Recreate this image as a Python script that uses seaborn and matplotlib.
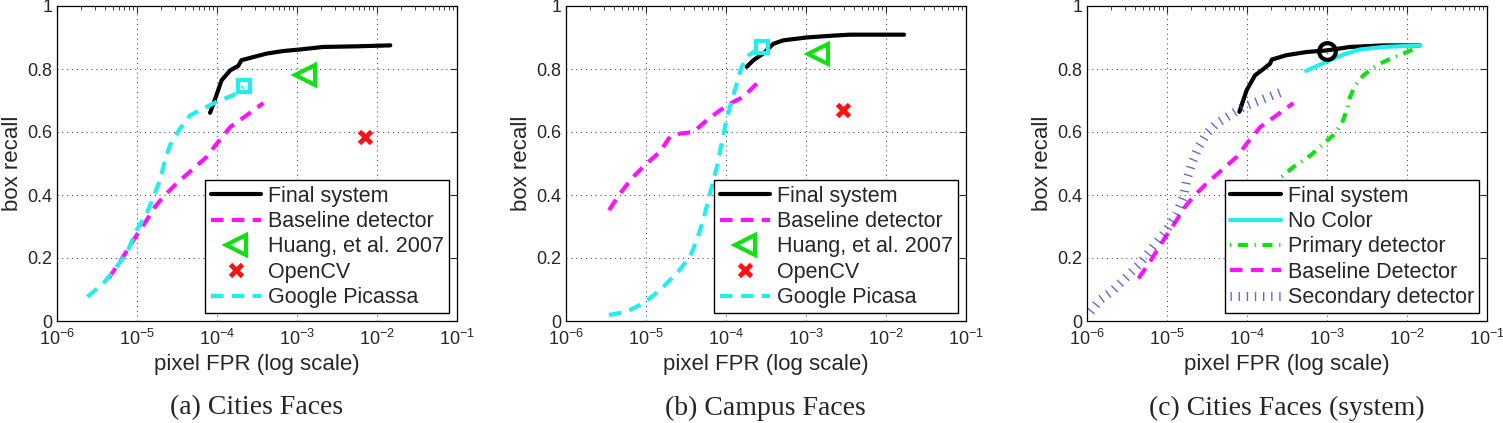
import matplotlib
matplotlib.use("Agg")
import matplotlib.pyplot as plt
import seaborn as sns

sns.set_style("white")
plt.rcParams['font.family'] = ['Liberation Sans', 'DejaVu Sans']
plt.rcParams['mathtext.fontset'] = 'custom'
plt.rcParams['mathtext.rm'] = 'Liberation Sans'
plt.rcParams['mathtext.it'] = 'Liberation Sans'

# %% Data

# (a) Cities Faces
a_final_x = [8.26e-5, 9.12e-5, 1.15e-4, 1.48e-4, 1.86e-4, 2.04e-4, 2.88e-4, 4.22e-4,
             6.76e-4, 1.10e-3, 2.14e-3, 5.6e-3, 1.48e-2]
a_final_y = [0.661, 0.69, 0.764, 0.796, 0.81, 0.828, 0.838, 0.849, 0.857, 0.862, 0.87, 0.872, 0.875]
a_base_x = [4.43e-6, 6.17e-6, 9.12e-6, 1.33e-5, 1.70e-5, 2.15e-5, 3.16e-5, 5.13e-5, 7.5e-5,
            1.0e-4, 1.48e-4, 2.37e-4, 3.83e-4]
a_base_y = [0.135, 0.188, 0.257, 0.32, 0.363, 0.394, 0.437, 0.484, 0.521, 0.563, 0.616, 0.653, 0.692]
a_pic_x = [2.42e-6, 3.83e-6, 5.62e-6, 7.5e-6, 1.0e-5, 1.33e-5, 1.62e-5, 1.95e-5, 2.26e-5,
           2.61e-5, 3.48e-5, 4.65e-5, 6.8e-5, 1.0e-4, 1.62e-4, 2.15e-4]
a_pic_y = [0.077, 0.119, 0.172, 0.215, 0.289, 0.341, 0.394, 0.447, 0.51, 0.558, 0.611, 0.653,
           0.674, 0.696, 0.717, 0.743]
a_pic_end = (2.2e-4, 0.745)
a_huang = (1.27e-3, 0.78)
a_opencv = (7.1e-3, 0.585)

# (b) Campus Faces
b_final_x = [1.83e-4, 2.22e-4, 2.95e-4, 3.94e-4, 5.25e-4, 1.02e-3, 2.22e-3, 3.58e-3, 1.70e-2]
b_final_y = [0.807, 0.828, 0.849, 0.88, 0.891, 0.9, 0.906, 0.909, 0.909]
b_base_x = [3.48e-6, 4.79e-6, 7.0e-6, 1.03e-5, 1.51e-5, 2.01e-5, 2.69e-5, 3.94e-5, 5.79e-5,
            8.5e-5, 1.25e-4, 1.51e-4, 1.83e-4, 2.22e-4, 2.82e-4]
b_base_y = [0.352, 0.405, 0.458, 0.5, 0.537, 0.585, 0.595, 0.6, 0.637, 0.669, 0.696, 0.706,
            0.722, 0.743, 0.77]
b_pic_x = [3.48e-6, 5.79e-6, 9.33e-6, 1.51e-5, 2.44e-5, 3.58e-5, 4.35e-5, 5.25e-5, 6.37e-5,
           7.76e-5, 8.9e-5, 1.02e-4, 1.19e-4, 1.38e-4, 1.58e-4, 1.95e-4, 2.45e-4]
b_pic_y = [0.019, 0.03, 0.056, 0.098, 0.151, 0.204, 0.257, 0.32, 0.405, 0.489, 0.563, 0.637,
           0.70, 0.754, 0.807, 0.844, 0.86]
b_pic_end = (2.82e-4, 0.87)
b_huang = (1.44e-3, 0.849)
b_opencv = (2.95e-3, 0.669)

# (c) Cities Faces (system)
c_final_x = [8.09e-5, 1.0e-4, 1.27e-4, 1.62e-4, 1.96e-4, 2.06e-4, 3.16e-4, 5.62e-4, 1.0e-3,
             1.96e-3, 5.13e-3, 1.47e-2]
c_final_y = [0.664, 0.733, 0.78, 0.80, 0.817, 0.83, 0.844, 0.854, 0.859, 0.87, 0.875, 0.875]
c_final_mark = (1.0e-3, 0.857)
c_nocolor_x = [5.52e-4, 7.5e-4, 1.10e-3, 1.62e-3, 2.61e-3, 5.13e-3, 1.47e-2]
c_nocolor_y = [0.794, 0.809, 0.828, 0.846, 0.862, 0.87, 0.875]
c_primary_x = [2.75e-4, 3.83e-4, 6.31e-4, 9.12e-4, 1.21e-3, 1.55e-3, 1.78e-3, 1.96e-3,
               2.26e-3, 2.88e-3, 4.22e-3, 6.31e-3, 9.12e-3, 1.40e-2]
c_primary_y = [0.458, 0.489, 0.526, 0.563, 0.59, 0.627, 0.669, 0.711, 0.748, 0.78, 0.812,
               0.833, 0.849, 0.87]
c_base_x = a_base_x
c_base_y = a_base_y
c_second_x = [1.12e-6, 1.47e-6, 2.15e-6, 3.16e-6, 4.65e-6, 6.8e-6, 1.0e-5, 1.33e-5, 1.62e-5,
              1.78e-5, 2.06e-5, 2.51e-5, 3.16e-5, 4.22e-5, 6.17e-5, 9.12e-5, 1.47e-4,
              2.15e-4, 2.75e-4]
c_second_y = [0.03, 0.067, 0.098, 0.14, 0.183, 0.236, 0.289, 0.341, 0.394, 0.447, 0.5, 0.553,
              0.595, 0.627, 0.653, 0.68, 0.70, 0.717, 0.727]

# %% Styles
BLACK, CYAN, MAGENTA, GREEN, RED, BLUE = 'black', '#22eeee', '#ff11ff', '#11e011', '#ff1111', '#3344cc'
LW = 3.0
DASH = (0, (3, 2))


def line(ax, x, y, label, **kw):
    sns.lineplot(x=x, y=y, ax=ax, label=label, sort=False, estimator=None, **kw)


def point(ax, xy, label, **kw):
    ax.plot([xy[0]], [xy[1]], linestyle='none', label=label, **kw)


def style_axes(ax):
    ax.set_xscale('log')
    ax.set_xlim(1e-6, 1e-1)
    ax.set_ylim(0, 1)
    ax.set_yticks([0, 0.2, 0.4, 0.6, 0.8, 1])
    ax.set_yticklabels(['0', '0.2', '0.4', '0.6', '0.8', '1'])
    ax.grid(True, which='major', linestyle=(0, (1, 4)), color='#333333', linewidth=0.7)
    ax.tick_params(which='both', direction='in', top=True, right=True, labelsize=13)
    ax.tick_params(axis='x', pad=6)
    ax.tick_params(axis='y', pad=3)
    ax.tick_params(which='major', length=5, width=0.8)
    ax.tick_params(which='minor', length=3, width=0.6)
    for s in ax.spines.values():
        s.set_color('black')
        s.set_linewidth(0.9)
    ax.set_xlabel('pixel FPR (log scale)', fontsize=16, labelpad=3)
    ax.set_ylabel('box recall', fontsize=16, labelpad=3)
    ax.legend(loc='lower right', fontsize=15.5, frameon=True, fancybox=False, framealpha=1,
              edgecolor='black', handlelength=2.35, handletextpad=0.3, borderpad=0.25,
              labelspacing=0.2, borderaxespad=0.35, numpoints=1)


fig = plt.figure(figsize=(15.03, 4.23), dpi=100)
W, H = 1503, 423
lefts = [56.7, 565.7, 1086.7]
axes = [fig.add_axes([l / W, (H - 321) / H, 400 / W, 315 / H]) for l in lefts]

# %% (a)
ax = axes[0]
line(ax, a_final_x, a_final_y, 'Final system', color=BLACK, linewidth=LW)
line(ax, a_base_x, a_base_y, 'Baseline detector', color=MAGENTA, linewidth=LW, linestyle=DASH)
point(ax, a_huang, 'Huang, et al. 2007', marker='<', markersize=14, mfc='none', mec=GREEN, mew=3)
point(ax, a_opencv, 'OpenCV', marker='x', markersize=9, mec=RED, mew=3.5)
line(ax, a_pic_x, a_pic_y, 'Google Picassa', color=CYAN, linewidth=LW, linestyle=DASH)
point(ax, a_pic_end, None, marker='s', markersize=9, mfc='none', mec=CYAN, mew=3)
style_axes(ax)

# %% (b)
ax = axes[1]
line(ax, b_final_x, b_final_y, 'Final system', color=BLACK, linewidth=LW)
line(ax, b_base_x, b_base_y, 'Baseline detector', color=MAGENTA, linewidth=LW, linestyle=DASH)
point(ax, b_huang, 'Huang, et al. 2007', marker='<', markersize=14, mfc='none', mec=GREEN, mew=3)
point(ax, b_opencv, 'OpenCV', marker='x', markersize=9, mec=RED, mew=3.5)
line(ax, b_pic_x, b_pic_y, 'Google Picasa', color=CYAN, linewidth=LW, linestyle=DASH)
point(ax, b_pic_end, None, marker='s', markersize=9, mfc='none', mec=CYAN, mew=3)
style_axes(ax)

# %% (c)
ax = axes[2]
line(ax, c_final_x, c_final_y, 'Final system', color=BLACK, linewidth=LW)
line(ax, c_nocolor_x, c_nocolor_y, 'No Color', color=CYAN, linewidth=LW)
line(ax, c_primary_x, c_primary_y, 'Primary detector', color=GREEN, linewidth=LW,
     linestyle=(0, (0.3, 1.6, 2.4, 1.6)))
line(ax, c_base_x, c_base_y, 'Baseline Detector', color=MAGENTA, linewidth=LW, linestyle=DASH)
line(ax, c_second_x, c_second_y, 'Secondary detector', color=BLUE, linewidth=6.5,
     linestyle=(0, (0.15, 0.75)), dash_capstyle='butt', alpha=0.8)
point(ax, c_final_mark, None, marker='o', markersize=12, mfc='none', mec=BLACK, mew=3)
style_axes(ax)

captions = ['(a) Cities Faces', '(b) Campus Faces', '(c) Cities Faces (system)']
for l, cap in zip(lefts, captions):
    fig.text((l + 200) / W, 1 - 408 / H, cap, ha='center', va='center', fontsize=20,
             family=['Liberation Serif', 'DejaVu Serif'])

plt.savefig('out.png', dpi=100)
